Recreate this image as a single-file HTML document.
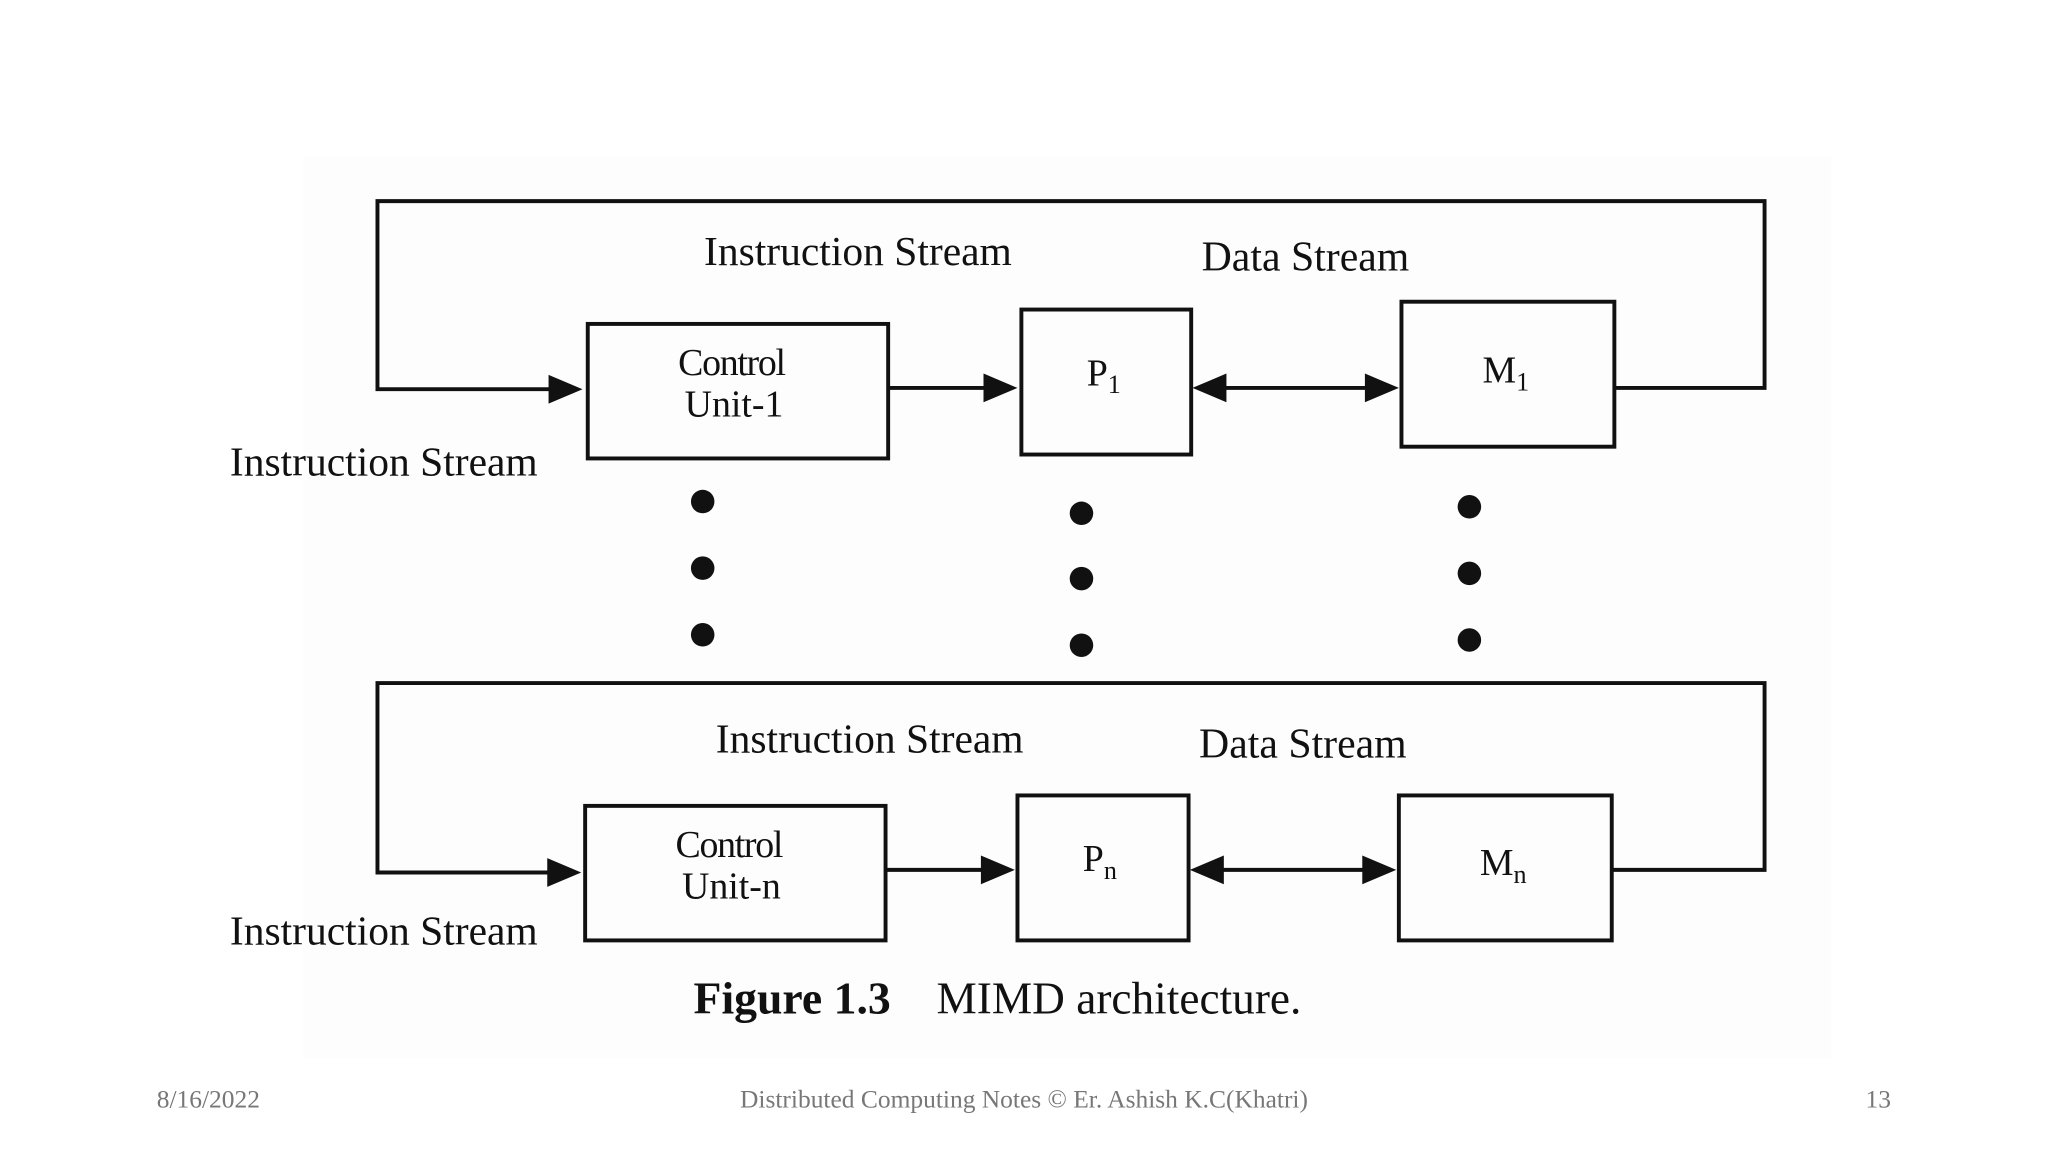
<!DOCTYPE html>
<html><head><meta charset="utf-8"><style>
html,body{margin:0;padding:0;background:#fff;}
svg{display:block;}
text{font-family:"Liberation Serif",serif;fill:#111;}
</style></head><body>
<svg width="2048" height="1152" viewBox="0 0 1568 882" xmlns="http://www.w3.org/2000/svg">
<rect x="0" y="0" width="1568" height="882" fill="#fff"/>
<rect x="232" y="120" width="1170" height="690" fill="#fdfdfd"/>
<g stroke="#111" stroke-width="3" fill="none">
<polyline points="422,298 289,298 289,154 1351,154 1351,297 1236,297"/>
<rect x="450" y="248" width="230" height="103"/>
<rect x="782" y="237" width="130" height="111"/>
<rect x="1073" y="231" width="163" height="111"/>
<line x1="680" y1="297" x2="756" y2="297"/>
<line x1="935" y1="297" x2="1048" y2="297"/>
<polyline points="422,668 289,668 289,523 1351,523 1351,666 1234,666"/>
<rect x="448" y="617" width="230" height="103"/>
<rect x="779" y="609" width="131" height="111"/>
<rect x="1071" y="609" width="163" height="111"/>
<line x1="678" y1="666" x2="754" y2="666"/>
<line x1="933" y1="666" x2="1046" y2="666"/>
</g>
<g fill="#111">
<polygon points="446,298 420,287 420,309"/>
<polygon points="779,297 753,286 753,308"/>
<polygon points="913,297 939,286 939,308"/>
<polygon points="1071,297 1045,286 1045,308"/>
<polygon points="445,668 419,657 419,679"/>
<polygon points="777,666 751,655 751,677"/>
<polygon points="911,666 937,655 937,677"/>
<polygon points="1069,666 1043,655 1043,677"/>
<circle cx="538" cy="384" r="9"/><circle cx="538" cy="435" r="9"/><circle cx="538" cy="486" r="9"/>
<circle cx="828" cy="393" r="9"/><circle cx="828" cy="443" r="9"/><circle cx="828" cy="494" r="9"/>
<circle cx="1125" cy="388" r="9"/><circle cx="1125" cy="439" r="9"/><circle cx="1125" cy="490" r="9"/>
</g>
<g font-size="31.8">
<text x="539" y="203">Instruction Stream</text>
<text x="920" y="207" font-size="32">Data Stream</text>
<text x="176" y="364">Instruction Stream</text>
<text x="548" y="576">Instruction Stream</text>
<text x="918" y="580" font-size="32">Data Stream</text>
<text x="176" y="723">Instruction Stream</text>
</g>
<g font-size="29">
<text x="560" y="287" text-anchor="middle" letter-spacing="-1">Control</text>
<text x="562" y="319" text-anchor="middle">Unit-1</text>
<text x="558" y="656" text-anchor="middle" letter-spacing="-1">Control</text>
<text x="560" y="688" text-anchor="middle">Unit-n</text>
<text x="832" y="295">P<tspan font-size="20" dy="6">1</tspan></text>
<text x="1135" y="293">M<tspan font-size="20" dy="6">1</tspan></text>
<text x="829" y="667">P<tspan font-size="20" dy="6">n</tspan></text>
<text x="1133" y="670">M<tspan font-size="20" dy="6">n</tspan></text>
</g>
<text x="531" y="776" font-size="35" font-weight="bold">Figure 1.3</text>
<text x="717" y="776" font-size="34.7">MIMD architecture.</text>
<g font-size="19.5">
<text x="120" y="848" style="fill:#777">8/16/2022</text>
<text x="784" y="848" text-anchor="middle" style="fill:#777">Distributed Computing Notes © Er. Ashish K.C(Khatri)</text>
<text x="1438" y="848" text-anchor="middle" style="fill:#777">13</text>
</g>
</svg>
</body></html>
